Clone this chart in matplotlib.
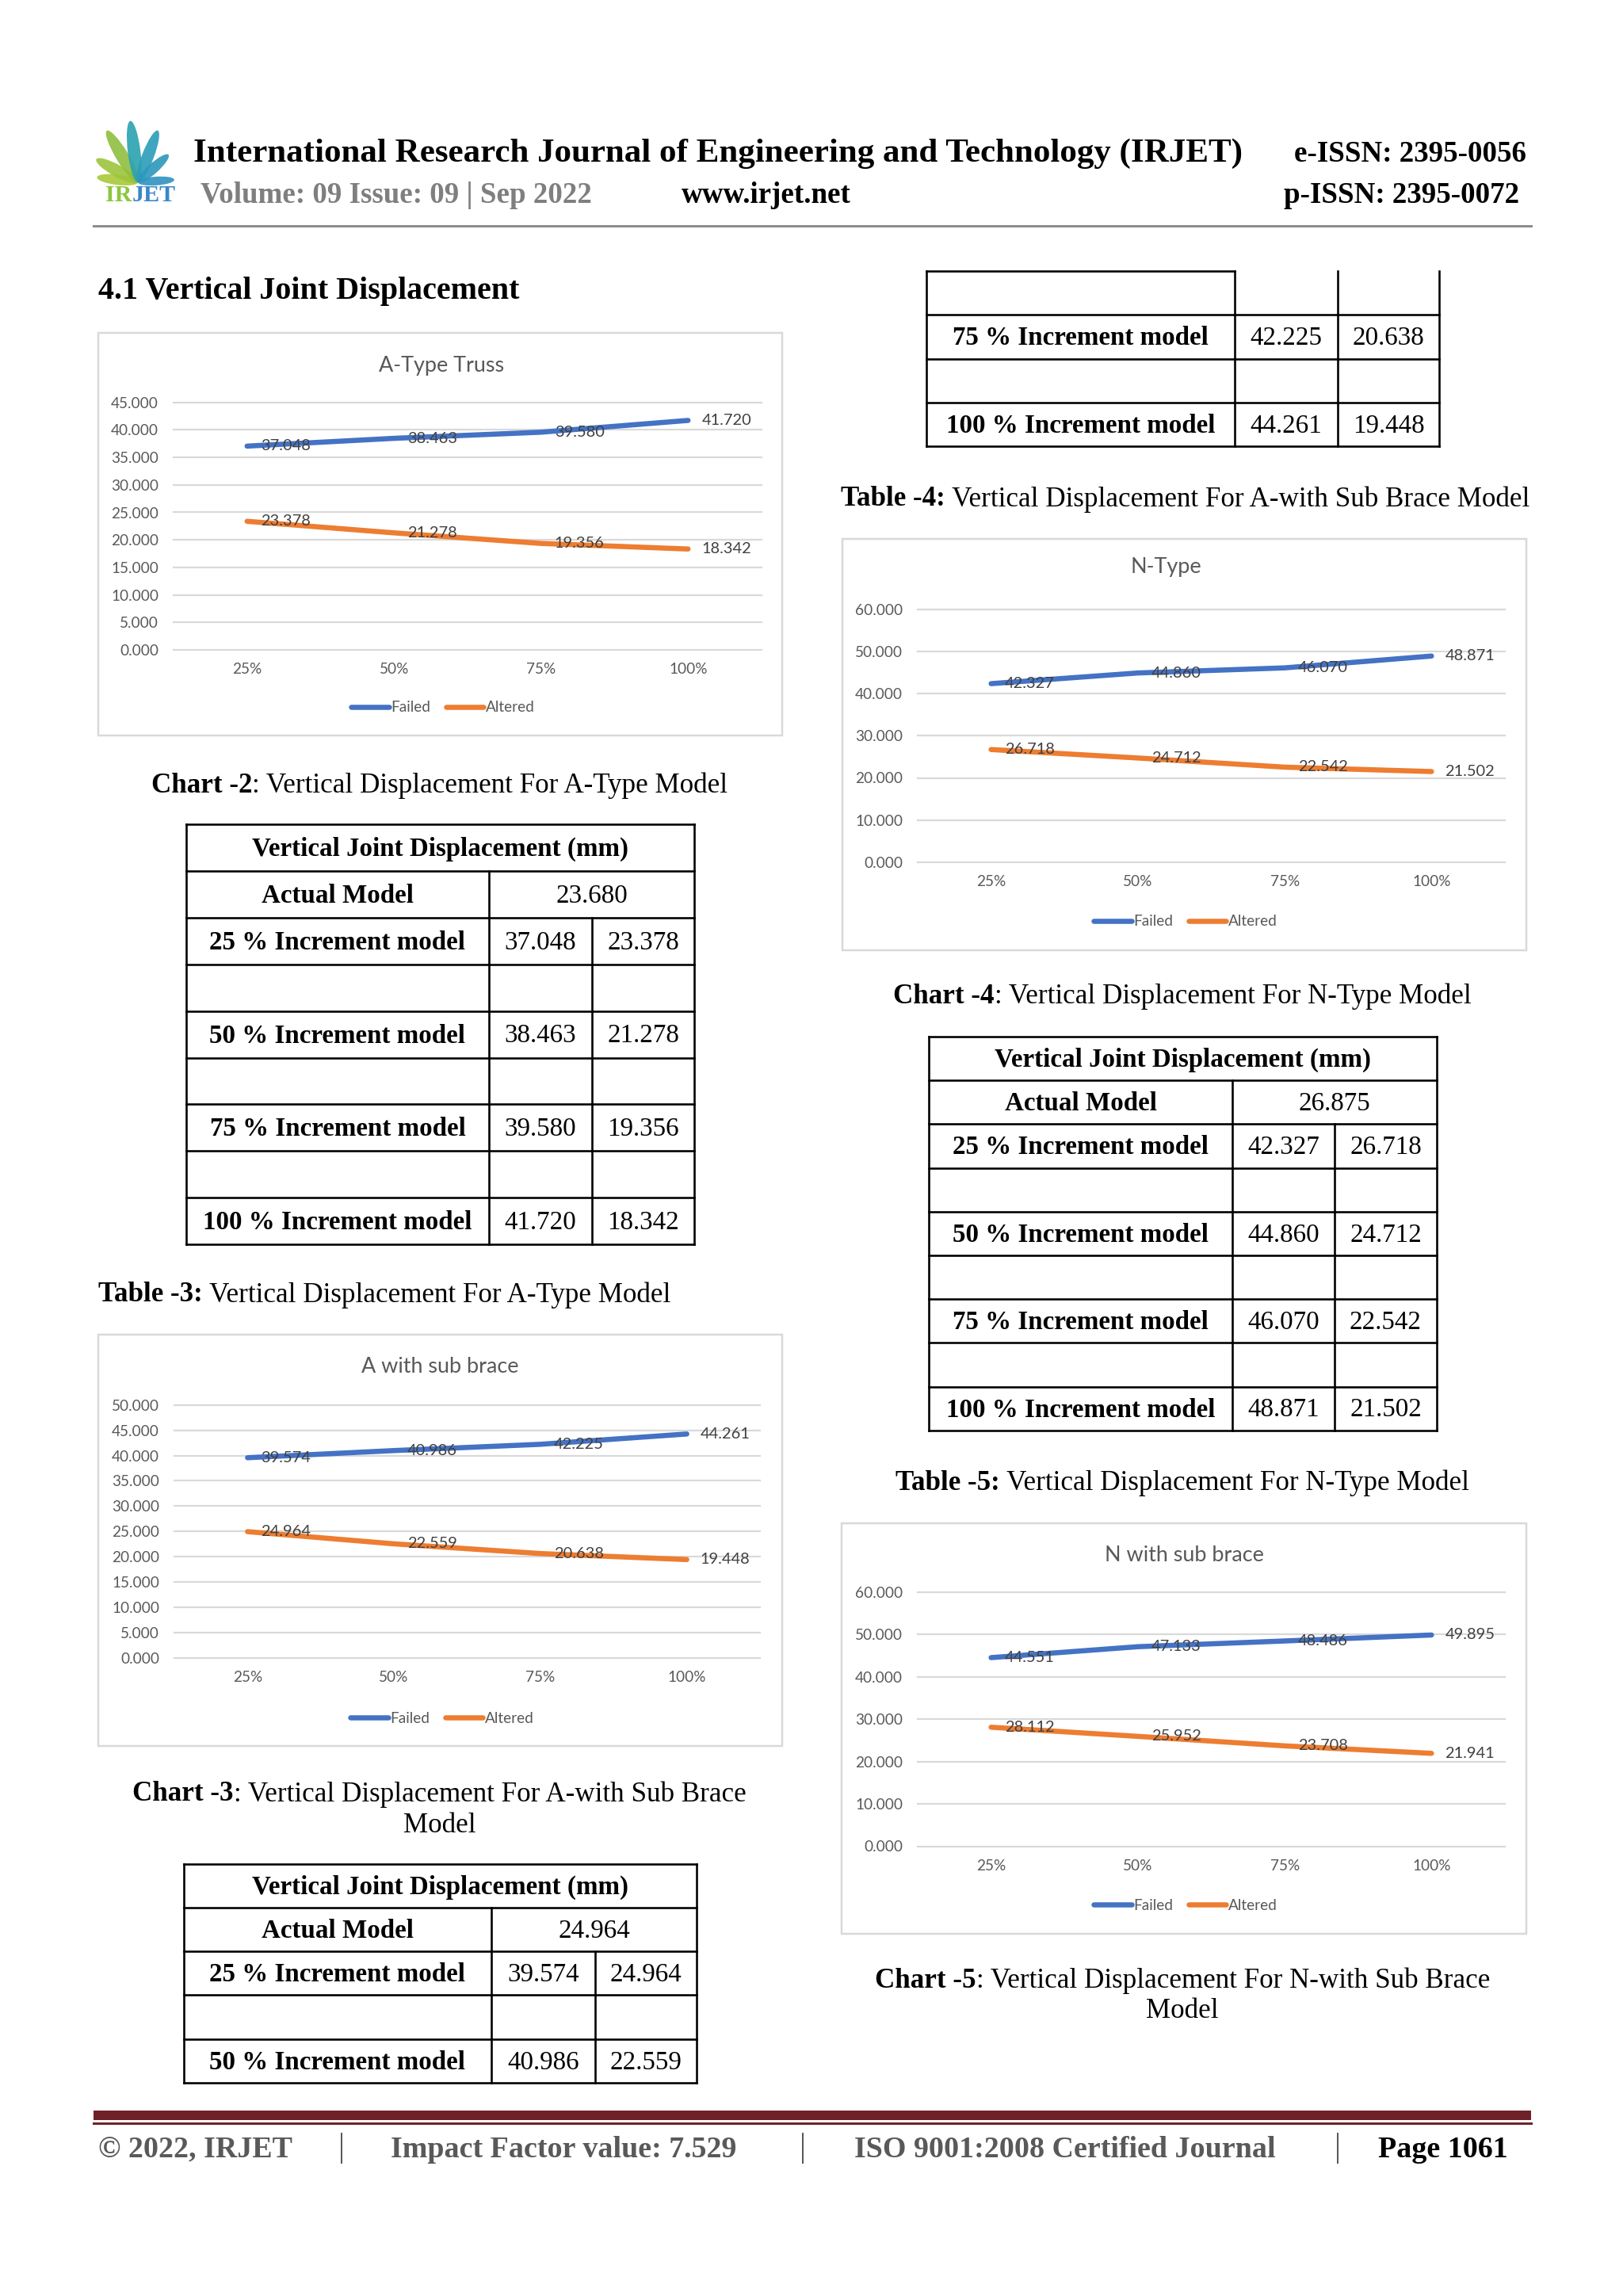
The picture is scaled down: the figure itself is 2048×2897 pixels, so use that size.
import matplotlib
matplotlib.use('Agg')
import matplotlib.pyplot as plt
from matplotlib.patches import Rectangle, Ellipse
from matplotlib.ticker import FormatStrFormatter
import numpy as np

DPI = 100
W, H = 2048, 2897
PX = 72 / DPI          # points per output pixel
DY = 4                 # serif text sits a little low in the page

SERIF = 'Liberation Serif'
SANS = 'Lato'
BLUE = '#4472C4'
ORANGE = '#ED7D31'
GRID = '#d9d9d9'
CHART_TXT = '#595959'

# ---- data -------------------------------------------------------------
categories = ['25%', '50%', '75%', '100%']
row_labels = ['25 % Increment model', '50 % Increment model',
              '75 % Increment model', '100 % Increment model']

a_type_failed = [37.048, 38.463, 39.580, 41.720]
a_type_altered = [23.378, 21.278, 19.356, 18.342]
a_type_actual = 23.680

a_sub_failed = [39.574, 40.986, 42.225, 44.261]
a_sub_altered = [24.964, 22.559, 20.638, 19.448]
a_sub_actual = 24.964

n_type_failed = [42.327, 44.860, 46.070, 48.871]
n_type_altered = [26.718, 24.712, 22.542, 21.502]
n_type_actual = 26.875

n_sub_failed = [44.551, 47.133, 48.486, 49.895]
n_sub_altered = [28.112, 25.952, 23.708, 21.941]

fig = plt.figure(figsize=(W / DPI, H / DPI), dpi=DPI, facecolor='white')
page = fig.add_axes([0, 0, 1, 1])
page.set_xlim(0, W)
page.set_ylim(H, 0)
page.axis('off')
renderer = fig.canvas.get_renderer()


def hline(x0, x1, y, color='black', lw=2.6):
    page.plot([x0, x1], [y, y], color=color, lw=lw * PX, solid_capstyle='projecting')


def vline(x, y0, y1, color='black', lw=2.6):
    page.plot([x, x], [y0, y1], color=color, lw=lw * PX, solid_capstyle='projecting')


def rich(x, y, parts, ha='left', size=35, family=SERIF):
    # parts: (text, weight, color)
    widths = []
    for t, w, c in parts:
        tmp = page.text(0, 0, t, fontsize=size * PX, fontweight=w, family=family)
        widths.append(tmp.get_window_extent(renderer).width)
        tmp.remove()
    start = x - sum(widths) / 2 if ha == 'center' else x
    for (t, w, c), wd in zip(parts, widths):
        page.text(start, y + DY, t, fontsize=size * PX, fontweight=w, family=family,
                  color=c, ha='left', va='center')
        start += wd


def caption(x, y, bold, rest, ha='center'):
    rich(x, y, [(bold, 'bold', 'black'), (rest, 'normal', 'black')], ha=ha, size=35)


def cell(x, y, text, bold=False):
    page.text(x, y, text, fontsize=33 * PX, family=SERIF,
              fontweight='bold' if bold else 'normal', ha='center', va='center')


def table(x0, x1, c1, c2, top, row_h, rows, open_top=False):
    edges = [top + i * row_h for i in range(len(rows) + 1)]
    vline(x0, edges[0], edges[-1])
    vline(x1, edges[0], edges[-1])
    for i, row in enumerate(rows):
        yt, yb = edges[i], edges[i + 1]
        yc = (yt + yb) / 2 + 2
        if i == 0 and open_top:
            hline(x0, c1, yt)
        else:
            hline(x0, x1, yt)
        kind = row[0]
        if kind == 'head':
            cell((x0 + x1) / 2, yc, row[1], bold=True)
        elif kind == 'actual':
            vline(c1, yt, yb)
            cell((x0 + c1) / 2, yc, row[1], bold=True)
            cell((c1 + x1) / 2, yc, f'{row[2]:.3f}')
        else:
            vline(c1, yt, yb)
            vline(c2, yt, yb)
            if kind == 'data':
                cell((x0 + c1) / 2, yc, row[1], bold=True)
                cell((c1 + c2) / 2, yc, f'{row[2]:.3f}')
                cell((c2 + x1) / 2, yc, f'{row[3]:.3f}')
    hline(x0, x1, edges[-1])


def full_rows(actual, failed, altered):
    rows = [('head', 'Vertical Joint Displacement (mm)'), ('actual', 'Actual Model', actual)]
    for k in range(len(row_labels)):
        if k > 0:
            rows.append(('blank',))
        rows.append(('data', row_labels[k], failed[k], altered[k]))
    return rows


def line_chart(box, plot, title, title_xy, legend_xy, failed, altered, ymax, ystep):
    bx0, by0, bx1, by1 = box
    page.add_patch(Rectangle((bx0, by0), bx1 - bx0, by1 - by0, facecolor='white',
                             edgecolor=GRID, lw=2.5 * PX))
    px0, py0, px1, py1 = plot
    ax = fig.add_axes([px0 / W, 1 - py1 / H, (px1 - px0) / W, (py1 - py0) / H])
    ax.patch.set_alpha(0)
    x = np.arange(len(categories))
    ax.plot(x, failed, color=BLUE, lw=6.5 * PX, solid_capstyle='round', label='Failed', zorder=3)
    ax.plot(x, altered, color=ORANGE, lw=6.5 * PX, solid_capstyle='round', label='Altered', zorder=3)
    for series in (failed, altered):
        for xi, v in zip(x, series):
            ax.annotate(f'{v:.3f}', (xi, v), xytext=(17 * PX, 0), textcoords='offset points',
                        va='center', ha='left', fontsize=20 * PX, family=SANS,
                        color='#404040', zorder=4)
    ax.set_xlim(-0.5, len(categories) - 0.5)
    ax.set_ylim(0, ymax)
    ax.set_yticks(np.arange(0, ymax + 0.01, ystep))
    ax.yaxis.set_major_formatter(FormatStrFormatter('%.3f'))
    ax.set_xticks(x, categories)
    ax.grid(axis='y', color=GRID, lw=2.2 * PX)
    for gl in ax.get_ygridlines():
        gl.set_clip_on(False)
    ax.set_axisbelow(True)
    for s in ax.spines.values():
        s.set_visible(False)
    ax.tick_params(axis='y', length=0, pad=19 * PX, labelsize=19 * PX, labelcolor=CHART_TXT)
    ax.tick_params(axis='x', length=0, pad=16 * PX, labelsize=19 * PX, labelcolor=CHART_TXT)
    for lab in ax.get_xticklabels() + ax.get_yticklabels():
        lab.set_family(SANS)
    page.text(title_xy[0], title_xy[1], title, ha='center', va='center',
              fontsize=27 * PX, family=SANS, color=CHART_TXT)
    lx, ly = legend_xy
    ax.legend(loc='center', ncol=2, frameon=False,
              bbox_to_anchor=((lx - px0) / (px1 - px0), (py1 - ly) / (py1 - py0)),
              prop={'family': SANS, 'size': 19 * PX}, labelcolor=CHART_TXT,
              handlelength=2.5, handletextpad=0.15, columnspacing=1.0)
    return ax


# ---- header -----------------------------------------------------------
leaf_base = (174, 230)
leaves = [  # angle (deg), length, thickness, colour
    (173, 52, 13, '#a9c93a'),
    (151, 60, 15, '#9cc43c'),
    (121, 76, 16, '#8fbf3f'),
    (97, 78, 16, '#2aa2b0'),
    (69, 70, 15, '#2b9db8'),
    (42, 52, 13, '#2c97bd'),
    (4, 46, 11, '#2f93c0'),
]
for ang, ln, th, col in leaves:
    r = np.deg2rad(ang)
    cx = leaf_base[0] + ln / 2 * np.cos(r)
    cy = leaf_base[1] - ln / 2 * np.sin(r)
    page.add_patch(Ellipse((cx, cy), ln, th, angle=-ang, facecolor=col, edgecolor='none', alpha=0.9))
rich(133, 243, [('IR', 'bold', '#8dc63f'), ('JET', 'bold', '#3a87c8')], size=30)

page.text(244, 190 + DY, 'International Research Journal of Engineering and Technology (IRJET)',
          fontsize=43 * PX, family=SERIF, fontweight='bold', va='center', ha='left')
page.text(1926, 190 + DY, 'e-ISSN: 2395-0056', fontsize=37 * PX, family=SERIF,
          fontweight='bold', va='center', ha='right')
page.text(253, 246, 'Volume: 09 Issue: 09 | Sep 2022', fontsize=37 * PX, family=SERIF,
          fontweight='bold', va='center', ha='left', color='#7f7f7f')
page.text(860, 246, 'www.irjet.net', fontsize=37 * PX, family=SERIF,
          fontweight='bold', va='center', ha='left')
page.text(1917, 246, 'p-ISSN: 2395-0072', fontsize=37 * PX, family=SERIF,
          fontweight='bold', va='center', ha='right')
hline(118, 1932, 285, color='#8c8c8c', lw=3)

page.text(124, 364 + DY, '4.1 Vertical Joint Displacement', fontsize=40 * PX, family=SERIF,
          fontweight='bold', va='center', ha='left')

# ---- left column ------------------------------------------------------
line_chart((124, 420, 987, 928), (219, 507.7, 961, 820), 'A-Type Truss', (557, 462), (559, 893),
           a_type_failed, a_type_altered, 45, 5)
caption(554.5, 987, 'Chart -2', ': Vertical Displacement For A-Type Model')

table(235, 876, 617, 747, 1040, 58.9, full_rows(a_type_actual, a_type_failed, a_type_altered))
caption(124, 1630, 'Table -3:', ' Vertical Displacement For A-Type Model', ha='left')

line_chart((124, 1684, 987, 2203), (220, 1772.7, 959, 2092), 'A with sub brace', (555, 1725),
           (558, 2168), a_sub_failed, a_sub_altered, 50, 5)
caption(554.5, 2260, 'Chart -3', ': Vertical Displacement For A-with Sub Brace')
rich(554.5, 2300, [('Model', 'normal', 'black')], ha='center', size=35)

table(232, 879, 620, 751, 2351.5, 55.3,
      full_rows(a_sub_actual, a_sub_failed, a_sub_altered)[:5])

# ---- right column -----------------------------------------------------
cont_rows = [('blank',), ('data', row_labels[2], a_sub_failed[2], a_sub_altered[2]),
             ('blank',), ('data', row_labels[3], a_sub_failed[3], a_sub_altered[3])]
table(1169, 1816, 1558, 1688, 342, 55.25, cont_rows, open_top=True)
caption(1061, 626, 'Table -4:', ' Vertical Displacement For A-with Sub Brace Model', ha='left')

line_chart((1063, 680, 1926, 1199), (1158, 768.5, 1899, 1088), 'N-Type', (1471, 716), (1496, 1163),
           n_type_failed, n_type_altered, 60, 10)
caption(1492, 1253, 'Chart -4', ': Vertical Displacement For N-Type Model')

table(1172, 1813, 1555, 1684, 1308, 55.2, full_rows(n_type_actual, n_type_failed, n_type_altered))
caption(1492, 1867, 'Table -5:', ' Vertical Displacement For N-Type Model')

line_chart((1062, 1922, 1926, 2440), (1158, 2009, 1899, 2329.5), 'N with sub brace',
           (1494.5, 1962.5), (1496, 2404), n_sub_failed, n_sub_altered, 60, 10)
caption(1492, 2495, 'Chart -5', ': Vertical Displacement For N-with Sub Brace')
rich(1492, 2534, [('Model', 'normal', 'black')], ha='center', size=35)

# ---- footer -----------------------------------------------------------
page.add_patch(Rectangle((118, 2663), 1814, 12, facecolor='#6e2227', edgecolor='none'))
hline(118, 1932, 2678.5, color='#6e2227', lw=3)
for txt, x, col in [('© 2022, IRJET', 124, '#595959'),
                    ('Impact Factor value: 7.529', 493, '#595959'),
                    ('ISO 9001:2008 Certified Journal', 1078, '#595959'),
                    ('Page 1061', 1739, 'black')]:
    page.text(x, 2708 + DY, txt, fontsize=38 * PX, family=SERIF, fontweight='bold',
              color=col, va='center', ha='left')
for x in (431, 1013, 1688):
    vline(x, 2692, 2729, color='#595959', lw=2)

fig.savefig('out.png', dpi=DPI, facecolor='white')
